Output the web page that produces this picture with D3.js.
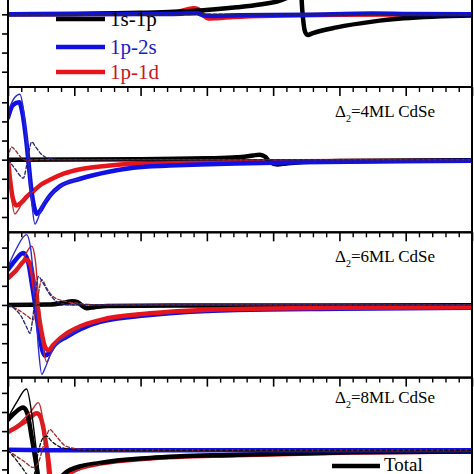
<!DOCTYPE html>
<html><head><meta charset="utf-8">
<script src="https://cdn.jsdelivr.net/npm/d3@7/dist/d3.min.js"></script>
<style>html,body{margin:0;padding:0;background:#fff;}svg{display:block;}</style>
</head><body>
<script>
// ---------- data (x in arbitrary energy units 0..7, y in arbitrary units) ----------
const panelLabels = ["", "4ML CdSe", "6ML CdSe", "8ML CdSe"];
const legendNames = ["1s-1p", "1p-2s", "1p-1d"];
const totalName = "Total";
const xMajorTicks = [0,1,2,3,4,5,6,7];
const yTicks = [-3,-2,-1,0,1,2,3];

// Panel 1
const p1_1s1p = [[0,0],[1,0.02],[2,0.08],[2.5,0.13],[2.9,0.2],[3.45,0.37],[3.8,0.52],[4.1,0.72],[4.25,0.95],[4.35,1.3],[4.41,1.7],[4.44,0.2],[4.48,-0.9],[4.52,-1.08],[4.6,-0.98],[4.96,-0.68],[5.5,-0.38],[5.97,-0.21],[7,-0.06]];
const p1_1p2s = [[0,0],[2.5,0.02],[2.85,0.06],[2.95,-0.06],[3.1,-0.08],[3.5,-0.05],[4.5,-0.02],[5.5,0.04],[6,0.02],[7,0]];
const p1_1p1d = [[0,0],[2,0.03],[2.5,0.1],[2.7,0.25],[2.8,0.32],[2.87,0.26],[2.95,-0.05],[3.02,-0.22],[3.15,-0.2],[3.4,-0.14],[4.15,-0.06],[5,-0.02],[7,0]];
const p1_dashBlue = [[0,0],[7,0]];
const p1_dashBlack = [[0,0],[7,0]];

// Panel 2 (4ML)
const p2_1p2s = [[0,2.2],[0.075,2.85],[0.17,3.0],[0.22,2.4],[0.265,1.3],[0.306,0],[0.35,-1.5],[0.4,-2.55],[0.433,-2.84],[0.48,-2.7],[0.55,-2.3],[0.633,-1.88],[0.78,-1.4],[1.09,-1.0],[1.54,-0.62],[1.89,-0.42],[2.44,-0.31],[2.9,-0.25],[3.45,-0.2],[4.4,-0.14],[5.9,-0.08],[7,-0.06]];
const p2_1p2s_thin = [[0,2.5],[0.09,3.2],[0.18,3.42],[0.23,2.7],[0.3,0.3],[0.36,-2.3],[0.407,-3.37],[0.45,-3.1],[0.52,-2.4],[0.633,-1.9],[0.78,-1.42],[1.09,-1.0]];
const p2_1p1d = [[0,0],[0.03,-1.0],[0.075,-2.05],[0.13,-2.4],[0.2,-2.25],[0.28,-1.95],[0.38,-1.65],[0.5,-1.3],[0.633,-1.05],[0.85,-0.72],[1.09,-0.5],[1.5,-0.32],[1.89,-0.22],[2.9,-0.14],[4.4,-0.09],[7,-0.05]];
const p2_1p1d_thin = [[0,0],[0.05,-1.9],[0.105,-2.84],[0.16,-2.6],[0.25,-2.05],[0.38,-1.67],[0.5,-1.3]];
const p2_dashRed = [[0,0.1],[0.055,0.66],[0.12,0.45],[0.2,0.1],[0.28,-0.03],[0.5,0],[7,0]];
const p2_dashBlue = [[0,0],[0.1,-0.45],[0.2,-0.9],[0.23,-0.97],[0.27,-0.5],[0.31,0.3],[0.357,0.93],[0.42,0.65],[0.5,0.3],[0.6,0.08],[0.8,0],[7,0]];
const p2_1s1p = [[0,0],[2.0,0.02],[3.0,0.07],[3.45,0.12],[3.7,0.22],[3.8,0.26],[3.88,0.15],[3.95,-0.12],[4.06,-0.25],[4.2,-0.2],[4.45,-0.12],[5.0,-0.07],[7,-0.03]];
const p2_dashBlack = [[0,0],[7,0]];

// Panel 3 (6ML)
const p3_1p2s = [[0,1.84],[0.1,2.3],[0.23,2.72],[0.3,2.3],[0.36,1.1],[0.41,0],[0.47,-1.5],[0.52,-2.4],[0.56,-2.65],[0.62,-2.5],[0.7,-2.1],[0.885,-1.67],[1.1,-1.25],[1.39,-0.88],[2.14,-0.53],[3.45,-0.26],[5,-0.2],[7,-0.15]];
const p3_1p1d = [[0,1.4],[0.12,1.8],[0.28,2.37],[0.34,2.1],[0.42,0.5],[0.5,-1.3],[0.56,-2.2],[0.61,-2.37],[0.68,-2.1],[0.885,-1.49],[1.1,-1.1],[1.39,-0.79],[2.14,-0.44],[3.45,-0.21],[5,-0.15],[7,-0.12]];
const p3_1p2s_thin = [[0,2.0],[0.12,2.9],[0.28,3.68],[0.34,3.0],[0.41,0.3],[0.46,-2.3],[0.51,-3.63],[0.56,-3.3],[0.65,-2.5],[0.75,-2.0],[0.885,-1.67],[1.1,-1.25]];
const p3_1p1d_thin = [[0,1.3],[0.2,2.2],[0.357,3.07],[0.41,2.4],[0.47,0],[0.53,-2.2],[0.583,-2.98],[0.64,-2.6],[0.75,-1.9],[0.885,-1.5],[1.1,-1.1]];
const p3_dashBlue = [[0,0],[0.1,-0.2],[0.2,-0.6],[0.3,-1.3],[0.33,-1.49],[0.38,-0.5],[0.42,0.8],[0.46,1.49],[0.52,1.2],[0.62,0.6],[0.78,0.1],[1.0,0],[7,0]];
const p3_dashRed = [[0,0],[0.15,-0.25],[0.3,-0.6],[0.38,-0.79],[0.44,0.2],[0.51,1.32],[0.58,0.9],[0.68,0.44],[0.85,0.2],[1.04,0.09],[1.4,0],[7,0]];
const p3_1s1p = [[0,0],[0.6,0.02],[0.85,0.12],[0.97,0.2],[1.05,0.15],[1.12,-0.05],[1.19,-0.17],[1.3,-0.12],[1.5,-0.05],[2.5,-0.03],[7,-0.02]];
const p3_dashBlack = [[0,0],[7,0]];

// Panel 4 (8ML)
const p4_1s1p = [[0,1.6],[0.1,1.95],[0.23,2.23],[0.29,1.95],[0.357,0.7],[0.39,0],[0.433,-0.9],[0.48,-2.2],[0.53,-3.0],[0.6,-2.6],[0.7,-1.9],[0.8,-1.4],[0.935,-1.02],[1.39,-0.66],[2.14,-0.4],[3.45,-0.23],[5.2,-0.1],[7,-0.06]];
const p4_1s1p_thin = [[0,1.7],[0.13,2.5],[0.28,3.2],[0.357,1.95],[0.41,0.5],[0.457,-0.88],[0.5,-2.5],[0.56,-3.6],[0.63,-3.0],[0.75,-2.0],[0.935,-1.1],[1.39,-0.7]];
const p4_1p1d = [[0,0.96],[0.15,1.25],[0.3,1.6],[0.433,1.93],[0.49,1.75],[0.53,1.23],[0.57,0.4],[0.61,-0.53],[0.633,-1.26],[0.68,-2.4],[0.73,-2.7],[0.8,-2.2],[0.935,-1.15],[1.39,-0.7],[2.14,-0.43],[3.45,-0.26],[5.2,-0.12],[7,-0.07]];
const p4_1p1d_thin = [[0,1.0],[0.2,1.5],[0.35,2.05],[0.457,2.49],[0.51,1.9],[0.55,0.6],[0.583,-0.68],[0.63,-2.5],[0.68,-3.5],[0.76,-3.0],[0.85,-2.0],[0.935,-1.3],[1.39,-0.72]];
const p4_1p2s = [[0,0.02],[1,0],[7,0]];
const p4_dashBlack = [[0,0],[0.1,-0.4],[0.2,-0.85],[0.3,-1.3],[0.38,-1.4],[0.45,-0.2],[0.52,0.6],[0.58,0.74],[0.65,0.5],[0.8,0.15],[1.0,0.03],[1.2,0],[7,0]];
const p4_dashRed = [[0,0],[0.12,-0.3],[0.25,-0.6],[0.38,-0.9],[0.45,-0.7],[0.55,0.4],[0.633,1.09],[0.7,0.85],[0.88,0.2],[1.1,0.05],[1.4,0],[7,0]];

// ---------- styles ----------
const C = {
  black:"#000000", blue:"#1010e6", red:"#e8141c",
  thinBlue:"#2a2ad0", thinRed:"#c42a2a", thinBlack:"#000000",
  dashBlue:"#22227a", dashRed:"#a02828", dashBlack:"#111111"
};
const TH = {thick:4.5, thin:1.4, dash:1.3};

const panels = [
  {series:[
    {d:p1_1p1d,c:C.red,w:TH.thick},{d:p1_1s1p,c:C.black,w:TH.thick},{d:p1_1p2s,c:C.blue,w:TH.thick},
    {d:p1_dashBlack,c:C.dashBlack,w:TH.dash,dash:true},{d:p1_dashBlue,c:C.dashBlue,w:TH.dash,dash:true}]},
  {series:[
    {d:p2_1p1d,c:C.red,w:TH.thick},{d:p2_1s1p,c:C.black,w:TH.thick},{d:p2_1p2s,c:C.blue,w:TH.thick},
    {d:p2_1p1d_thin,c:C.thinRed,w:TH.thin},{d:p2_1p2s_thin,c:C.thinBlue,w:TH.thin},
    {d:p2_dashBlack,c:C.dashBlack,w:TH.dash,dash:true},{d:p2_dashRed,c:C.dashRed,w:TH.dash,dash:true},{d:p2_dashBlue,c:C.dashBlue,w:TH.dash,dash:true}]},
  {series:[
    {d:p3_1s1p,c:C.black,w:TH.thick},{d:p3_1p2s,c:C.blue,w:TH.thick},{d:p3_1p1d,c:C.red,w:TH.thick},
    {d:p3_1p1d_thin,c:C.thinRed,w:TH.thin},{d:p3_1p2s_thin,c:C.thinBlue,w:TH.thin},
    {d:p3_dashBlack,c:C.dashBlack,w:TH.dash,dash:true},{d:p3_dashRed,c:C.dashRed,w:TH.dash,dash:true},{d:p3_dashBlue,c:C.dashBlue,w:TH.dash,dash:true}]},
  {series:[
    {d:p4_1p1d,c:C.red,w:TH.thick},{d:p4_1s1p,c:C.black,w:TH.thick},
    {d:p4_1p1d_thin,c:C.thinRed,w:TH.thin},{d:p4_1s1p_thin,c:C.thinBlack,w:TH.thin},
    {d:p4_1p2s,c:C.blue,w:TH.thick},
    {d:p4_dashRed,c:C.dashRed,w:TH.dash,dash:true},{d:p4_dashBlack,c:C.dashBlack,w:TH.dash,dash:true}]}
];

// ---------- layout ----------
const W = 474, H = 474;
const left = 8, right = 472;
const panelH = 145.3, firstTop = 87 - panelH;
const labelBaselines = [0, 116.7, 261.7, 403.3];
const font = "'Liberation Serif','Times New Roman',serif";

const svg = d3.select("body").append("svg").attr("width",W).attr("height",H)
  .attr("viewBox",`0 0 ${W} ${H}`);
svg.append("rect").attr("width",W).attr("height",H).attr("fill","#fff");

const x = d3.scaleLinear().domain([0,7]).range([left,right]);
const minorTicks = d3.range(0,7.0001,0.2).filter(v => Math.abs(v-Math.round(v))>1e-6);

panels.forEach((p,i) => {
  const top = firstTop + i*panelH;
  const y = d3.scaleLinear().domain([-3.8,3.8]).range([top+panelH, top]);
  const g = svg.append("g");
  const clipId = "clip"+i;
  svg.append("clipPath").attr("id",clipId).append("rect")
    .attr("x",left).attr("y",top).attr("width",right-left).attr("height",panelH);

  const line = d3.line().x(d=>x(d[0])).y(d=>y(d[1])).curve(d3.curveMonotoneX);
  const cg = g.append("g").attr("clip-path",`url(#${clipId})`);
  p.series.forEach(s => {
    cg.append("path").attr("d",line(s.d)).attr("fill","none")
      .attr("stroke",s.c).attr("stroke-width",s.w)
      .attr("stroke-linejoin","round").attr("stroke-linecap","round")
      .attr("stroke-dasharray", s.dash ? "3.5,2.2" : null);
  });

  // frame
  g.append("rect").attr("x",left).attr("y",top).attr("width",right-left).attr("height",panelH)
    .attr("fill","none").attr("stroke","#000").attr("stroke-width",2);

  // left ticks (outward)
  const ya = d3.axisLeft(y).tickValues(yTicks).tickSize(6).tickFormat("");
  g.append("g").attr("transform",`translate(${left},0)`).call(ya)
    .call(a=>a.select(".domain").remove())
    .call(a=>a.selectAll("line").attr("stroke-width",1.6));

  // top ticks (inward)
  const xa = d3.axisBottom(x).tickValues(xMajorTicks).tickSize(9).tickFormat("");
  g.append("g").attr("transform",`translate(0,${top})`).call(xa)
    .call(a=>a.select(".domain").remove())
    .call(a=>a.selectAll("line").attr("stroke-width",1.6));
  const xm = d3.axisBottom(x).tickValues(minorTicks).tickSize(5).tickFormat("");
  g.append("g").attr("transform",`translate(0,${top})`).call(xm)
    .call(a=>a.select(".domain").remove())
    .call(a=>a.selectAll("line").attr("stroke-width",1.4));

  if (panelLabels[i]) {
    const t = g.append("text").attr("x",335).attr("y",labelBaselines[i])
      .attr("font-family",font).attr("font-size",17).attr("fill","#000");
    t.append("tspan").text("\u0394");
    t.append("tspan").attr("font-size",10).attr("dy",5).text("2");
    t.append("tspan").attr("dy",-5).text("=" + panelLabels[i]);
  }
});

// legend (panel 1)
const legColors = [C.black, C.blue, C.red];
const legText = ["#000", "#1a1ac8", "#c8161c"];
const legY = [19, 47, 72];
legendNames.forEach((n,k) => {
  svg.append("line").attr("x1",56).attr("x2",105).attr("y1",legY[k]).attr("y2",legY[k])
    .attr("stroke",legColors[k]).attr("stroke-width",4.5);
  svg.append("text").attr("x",110).attr("y",legY[k]+7).attr("font-family",font)
    .attr("font-size",21).attr("fill",legText[k]).text(n);
});
// Total legend (panel 4)
svg.append("line").attr("x1",332).attr("x2",380).attr("y1",466).attr("y2",466)
  .attr("stroke","#000").attr("stroke-width",4.5);
svg.append("text").attr("x",384).attr("y",471).attr("font-family",font)
  .attr("font-size",19).attr("fill","#000").text(totalName);
</script>
</body></html>
